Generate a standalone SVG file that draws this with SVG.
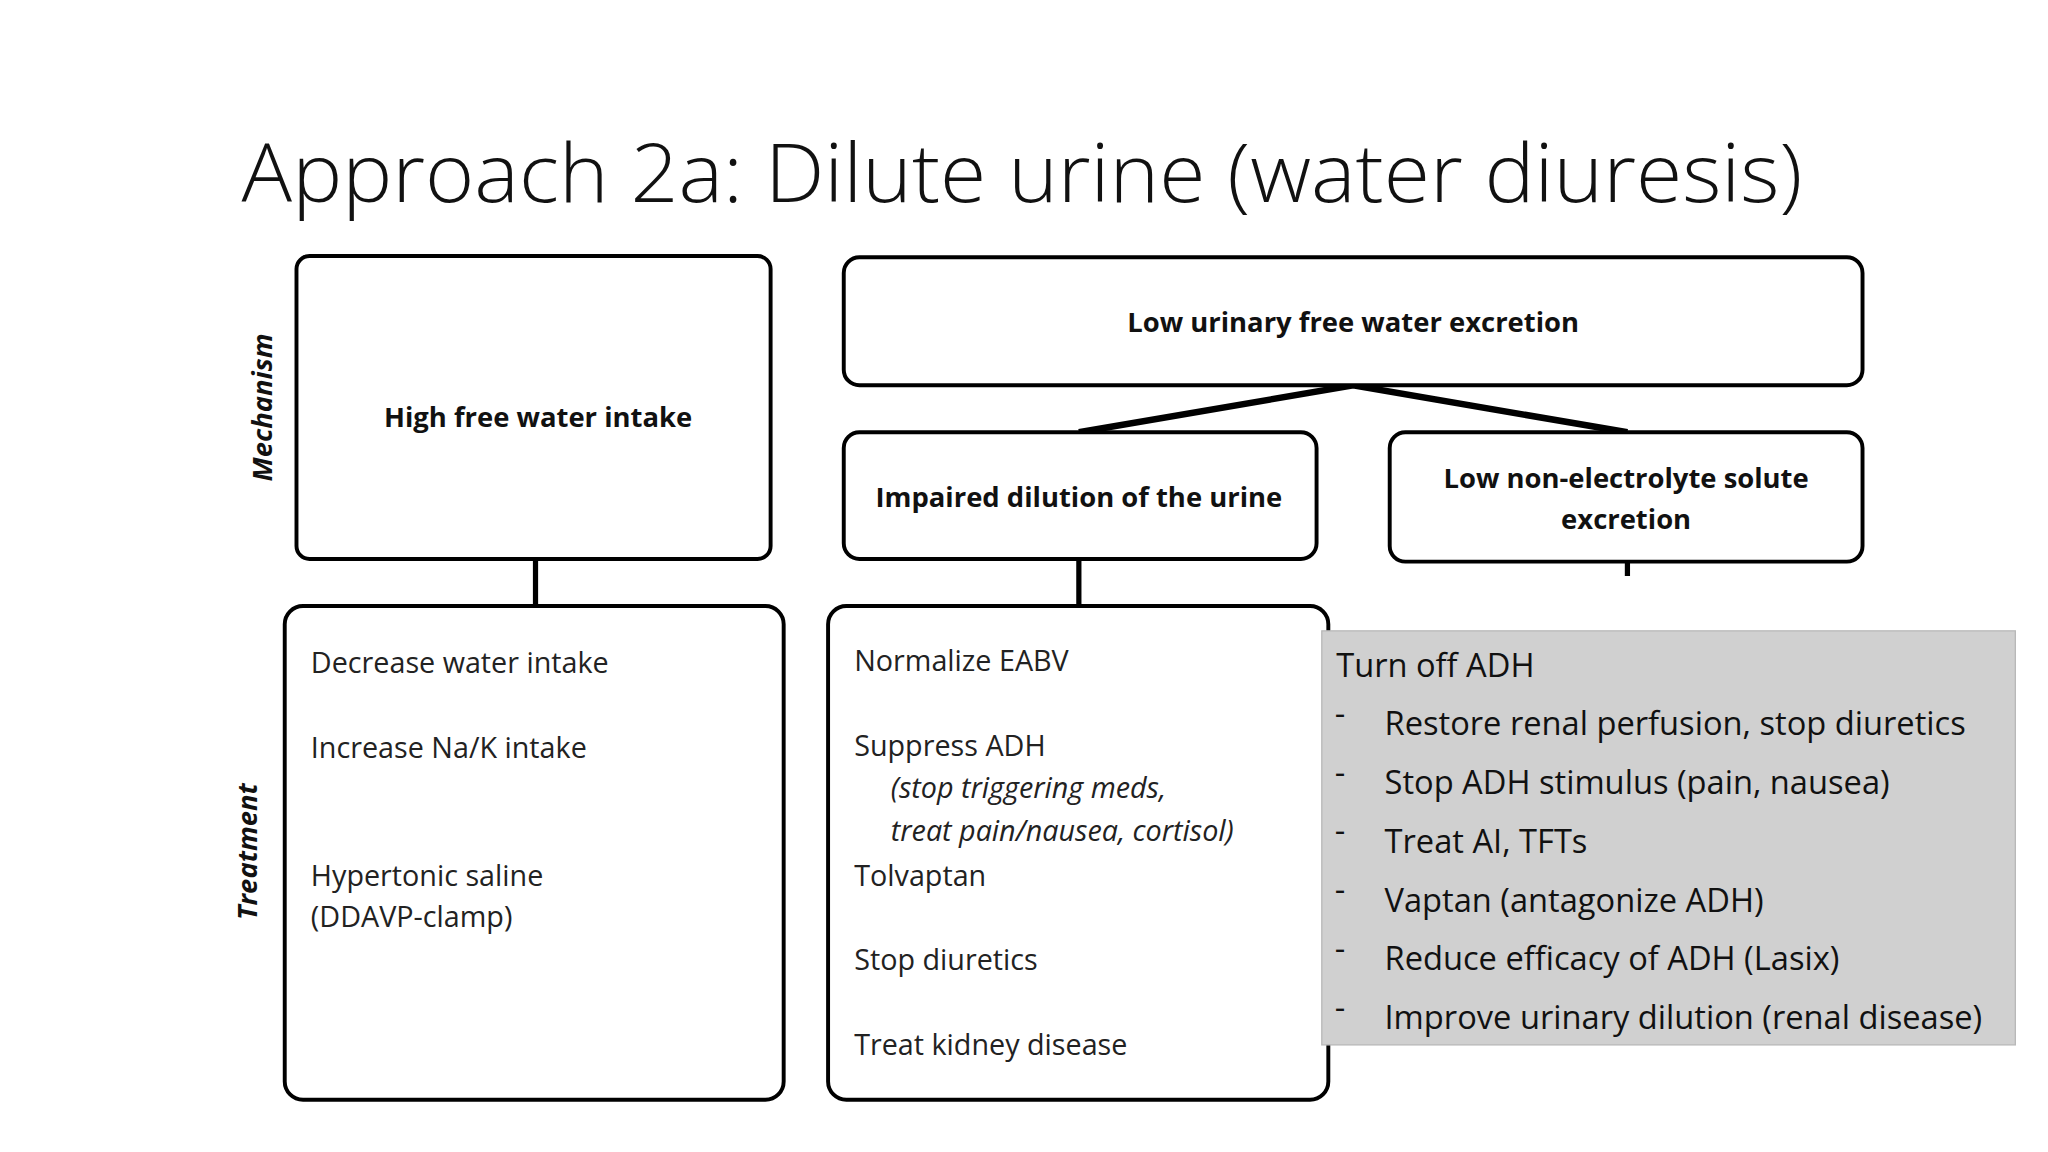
<svg xmlns="http://www.w3.org/2000/svg" width="2048" height="1152" viewBox="0 0 2048 1152">
<style>
.box{fill:#fff;stroke:#000;stroke-width:3}
.b{font-family:"Open Sans","Liberation Sans",sans-serif;font-weight:bold;font-size:21px;fill:#111;text-anchor:middle}
.t{font-family:"Open Sans","Liberation Sans",sans-serif;font-size:22px;fill:#222}
.i{font-style:italic}
.g{font-family:"Open Sans","Liberation Sans",sans-serif;font-size:25px;fill:#111}
.lab{font-family:"Open Sans","Liberation Sans",sans-serif;font-weight:bold;font-style:italic;font-size:21px;fill:#111;text-anchor:middle}
.c{stroke:#000;fill:none}
</style>
<rect width="2048" height="1152" fill="#fff"/>
<g transform="scale(1.30612)">
<text x="185" y="155" font-family="'Open Sans','Liberation Sans',sans-serif" font-weight="300" font-size="62" fill="#111" textLength="1195" lengthAdjust="spacingAndGlyphs">Approach 2a: Dilute urine (water diuresis)</text>
<g id="connectors">
<line class="c" x1="410" y1="428" x2="410" y2="464" stroke-width="4"/>
<line class="c" x1="826" y1="428" x2="826" y2="464" stroke-width="4"/>
<polyline class="c" points="826,331 1036,295 1246,331" stroke-width="5"/>
<line class="c" x1="1246" y1="430" x2="1246" y2="441" stroke-width="4"/>
</g>
<g id="labels">
<text class="lab" transform="translate(208,312) rotate(-90)">Mechanism</text>
<text class="lab" transform="translate(197,652) rotate(-90)">Treatment</text>
</g>
<g id="high"><rect class="box" x="227" y="196" width="363" height="232" rx="10"/><text class="b" x="412" y="327">High free water intake</text></g>
<g id="low"><rect class="box" x="646" y="197" width="780" height="98" rx="12"/><text class="b" x="1036" y="254">Low urinary free water excretion</text></g>
<g id="impaired"><rect class="box" x="646" y="331" width="362" height="97" rx="12"/><text class="b" x="826" y="388">Impaired dilution of the urine</text></g>
<g id="solute"><rect class="box" x="1064" y="331" width="362" height="99" rx="12"/><text class="b" x="1245" y="374">Low non-electrolyte solute</text><text class="b" x="1245" y="405">excretion</text></g>
<g id="treat1"><rect class="box" x="218" y="464" width="382" height="378" rx="14"/>
<text class="t" x="238" y="515">Decrease water intake</text>
<text class="t" x="238" y="580">Increase Na/K intake</text>
<text class="t" x="238" y="678">Hypertonic saline</text>
<text class="t" x="238" y="710">(DDAVP-clamp)</text></g>
<g id="treat2"><rect class="box" x="634" y="464" width="383" height="378" rx="14"/>
<text class="t" x="654" y="514">Normalize EABV</text>
<text class="t" x="654" y="579">Suppress ADH</text>
<text class="t i" x="682" y="611">(stop triggering meds,</text>
<text class="t i" x="682" y="644">treat pain/nausea, cortisol)</text>
<text class="t" x="654" y="678">Tolvaptan</text>
<text class="t" x="654" y="743">Stop diuretics</text>
<text class="t" x="654" y="808">Treat kidney disease</text></g>
<g id="adh"><rect x="1012" y="483" width="531" height="317" fill="#d0d0d0" stroke="#b8b8b8" stroke-width="1"/>
<text class="g" x="1023" y="518">Turn off ADH</text>
<g class="g"><text x="1022" y="555">-</text><text x="1022" y="600">-</text><text x="1022" y="645">-</text><text x="1022" y="690">-</text><text x="1022" y="735">-</text><text x="1022" y="780">-</text></g>
<text class="g" x="1060" y="563">Restore renal perfusion, stop diuretics</text>
<text class="g" x="1060" y="608">Stop ADH stimulus (pain, nausea)</text>
<text class="g" x="1060" y="653">Treat AI, TFTs</text>
<text class="g" x="1060" y="698">Vaptan (antagonize ADH)</text>
<text class="g" x="1060" y="743">Reduce efficacy of ADH (Lasix)</text>
<text class="g" x="1060" y="788">Improve urinary dilution (renal disease)</text>
</g>
</g>
</svg>
